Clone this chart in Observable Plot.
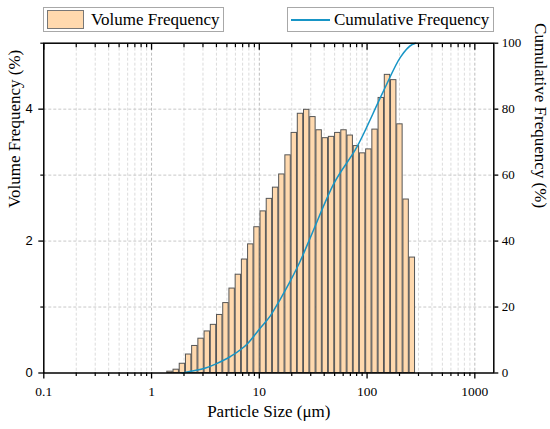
<!DOCTYPE html>
<html>
<head>
<meta charset="utf-8">
<script src="https://cdn.jsdelivr.net/npm/d3@7"></script>
<script src="https://cdn.jsdelivr.net/npm/@observablehq/plot@0.6"></script>
<style>
  body { margin: 0; background: #fff; }
  #wrap { position: relative; width: 550px; height: 429px; background: #fff; }
  #legend { position: relative; width: 550px; height: 38px; font-family: "Liberation Serif", "Times New Roman", serif; font-size: 17px; color: #000; }
  .lg { position: absolute; top: 7px; height: 25px; border: 1px solid #a8a8a8; box-sizing: border-box; background: #fff; }
  .lg span { position: absolute; top: 0; line-height: 23px; white-space: nowrap; }
  #lg1 { left: 43px; width: 181px; }
  #lg2 { left: 287px; width: 207px; }
  #sw { position: absolute; left: 3px; top: 2px; width: 37px; height: 19px; background: #FFD9AE; border: 1px solid #777; box-sizing: border-box; }
  #ln { position: absolute; left: 3px; top: 11px; width: 39px; height: 1.5px; background: #1795c6; }
</style>
</head>
<body>
<div id="wrap">
  <div id="legend">
    <div class="lg" id="lg1"><div id="sw"></div><span style="left:47px">Volume Frequency</span></div>
    <div class="lg" id="lg2"><div id="ln"></div><span style="left:46px">Cumulative Frequency</span></div>
  </div>
  <div id="chart"></div>
</div>
<script>
// Bar centres (particle size, µm)
const sizes = [1.483, 1.694, 1.934, 2.210, 2.522, 2.881, 3.290, 3.757, 4.291, 4.900,
  5.595, 6.391, 7.298, 8.333, 9.517, 10.87, 12.41, 14.17, 16.19, 18.49,
  21.11, 24.11, 27.53, 31.44, 35.91, 41.01, 46.83, 53.48, 61.08, 69.74,
  79.65, 90.96, 103.9, 118.6, 135.5, 154.7, 176.7, 201.8, 230.4, 263.1];
// Volume frequency (%)
const volume = [0.02, 0.05, 0.14, 0.28, 0.41, 0.52, 0.63, 0.73, 0.88, 1.06,
  1.28, 1.49, 1.72, 1.95, 2.21, 2.45, 2.64, 2.81, 3.01, 3.30,
  3.64, 3.93, 3.99, 3.88, 3.68, 3.56, 3.58, 3.64, 3.68, 3.60,
  3.44, 3.33, 3.39, 3.69, 4.17, 4.52, 4.44, 3.77, 2.63, 1.75];
// Cumulative frequency curve
const cumSizes = [1.93, 2.30, 3.17, 3.92, 5.40, 7.72, 10.26, 12.70, 15.73, 19.48, 24.12, 29.87, 49.13, 81.03, 143.0, 204.3, 262.4, 281.6];
const cumValues = [0, 0.5, 1.5, 2.7, 5.0, 8.8, 13.7, 17.4, 22.5, 28.0, 34.1, 41.2, 57.4, 68.7, 85.7, 95.8, 99.6, 100];
// Tick labels
const xTickValues = [0.1, 1, 10, 100, 1000];
const xTickLabels = ["0.1", "1", "10", "100", "1000"];
const yLeftTicks = [0, 2, 4];
const yLeftLabels = ["0", "2", "4"];
const yRightLabels = ["0", "20", "40", "60", "80", "100"];

const bars = sizes.map((s, i) => ({size: s, v: volume[i]}));
const cum = cumSizes.map((s, i) => ({size: s, c: cumValues[i]}));

const xDomain = [0.1, 1500];
const allXTicks = d3.scaleLog().domain(xDomain).ticks().filter(t => t > 0.1 && t <= 1000);
const minorX = allXTicks.filter(t => !xTickValues.some(m => Math.abs(m - t) < 1e-9));
const majorGrid = xTickValues.filter(t => t > 0.1);
const rightTicks = yRightLabels.map((_, i) => i);
const serif = "'Liberation Serif', 'Times New Roman', serif";
const sans = "'Liberation Sans', Arial, sans-serif";

const chart = Plot.plot({
  width: 550,
  height: 391,
  marginLeft: 43.3,
  marginRight: 56.7,
  marginTop: 4.7,
  marginBottom: 56.5,
  style: {fontFamily: serif, background: "white", overflow: "visible", color: "#000"},
  x: {type: "log", domain: xDomain, label: null},
  y: {domain: [0, 5], label: null},
  marks: [
    Plot.ruleX(minorX, {stroke: "#dcdcdc", strokeDasharray: "3,2"}),
    Plot.ruleX(majorGrid, {stroke: "#bdbdbd", strokeDasharray: "3,2"}),
    Plot.ruleY([1, 2, 3, 4], {stroke: "#c8c8c8", strokeDasharray: "3,2"}),
    Plot.rectY(bars, {x1: "size", x2: "size", y1: 0, y2: "v", insetLeft: -2.7, insetRight: -2.7,
      fill: "#FFD9AE", stroke: "#555", strokeWidth: 1}),
    Plot.line(cum, {x: "size", y: d => d.c / 20, curve: "monotone-x", stroke: "#1795c6", strokeWidth: 1.5}),
    Plot.frame({stroke: "#000", strokeWidth: 1.5}),
    // bottom axis
    Plot.axisX(xTickValues, {anchor: "bottom", tickSize: 6, tickPadding: 7, strokeWidth: 1.3,
      tickFormat: d => xTickLabels[xTickValues.indexOf(d)], fontSize: 13.5, fontFamily: serif, label: null}),
    Plot.axisX(minorX, {anchor: "bottom", tickSize: 3.5, strokeWidth: 1.2, tickFormat: () => "", label: null}),
    // top axis (ticks inward)
    Plot.axisX(xTickValues, {anchor: "top", tickSize: 6, dy: 6, strokeWidth: 1.3, tickFormat: () => "", label: null}),
    Plot.axisX(minorX, {anchor: "top", tickSize: 3.5, dy: 3.5, strokeWidth: 1.2, tickFormat: () => "", label: null}),
    // left axis
    Plot.axisY(yLeftTicks, {anchor: "left", tickSize: 5, tickPadding: 6, strokeWidth: 1.3,
      tickFormat: d => yLeftLabels[yLeftTicks.indexOf(d)], fontFamily: sans, fontSize: 13, label: null}),
    Plot.axisY([1, 3, 5], {anchor: "left", tickSize: 3, strokeWidth: 1.2, tickFormat: () => "", label: null}),
    // right axis
    Plot.axisY(rightTicks, {anchor: "right", tickSize: 4, tickPadding: 4, strokeWidth: 1.3,
      tickFormat: d => yRightLabels[d], fontFamily: serif, fontSize: 13, label: null}),
    // titles
    Plot.text(["Particle Size (μm)"], {frameAnchor: "bottom", dy: 44.2, fontSize: 17, fontFamily: serif, fill: "#000"}),
    Plot.text(["Volume Frequency (%)"], {frameAnchor: "left", dx: -29.3, rotate: -90, fontSize: 17, fontFamily: serif, fill: "#000"}),
    Plot.text(["Cumulative Frequency (%)"], {frameAnchor: "right", dx: 46.7, rotate: 90, fontSize: 17, fontFamily: serif, fill: "#000"})
  ]
});
document.getElementById("chart").appendChild(chart);
</script>
</body>
</html>
